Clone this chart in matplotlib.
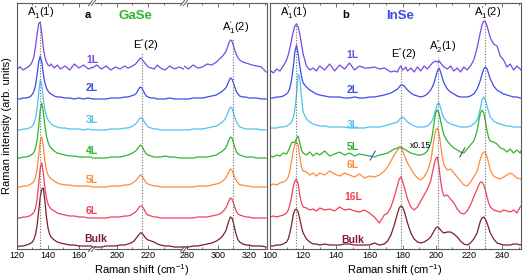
import matplotlib
matplotlib.use('Agg')
import matplotlib.pyplot as plt
from matplotlib.lines import Line2D
from matplotlib.ticker import FixedLocator
import numpy as np

plt.rcParams['font.family'] = ['Liberation Sans', 'DejaVu Sans']
plt.rcParams['mathtext.fontset'] = 'custom'
plt.rcParams['mathtext.rm'] = 'Liberation Sans'
plt.rcParams['mathtext.it'] = 'Liberation Sans:italic'
plt.rcParams['mathtext.bf'] = 'Liberation Sans:bold'
plt.rcParams['mathtext.default'] = 'regular'

# ---------------- data: GaSe (panel a), broken x axis in 3 pieces ----------------
gase_x1 = [120, 122, 124, 126, 128, 129, 130, 131, 132, 133, 134, 135, 136, 137, 138,
           139, 140, 141, 142, 144, 146, 148, 151, 154, 157, 160, 163, 166, 169]
gase_x2 = [184, 187, 190, 193, 196, 199, 202, 205, 207, 209, 211, 212, 213, 214, 215,
           216, 217, 218, 219, 220, 222, 224, 226, 228, 231, 234, 237, 240, 243]
gase_x3 = [278, 281, 284, 287, 290, 293, 296, 299, 301, 303, 305, 306, 307, 308, 309,
           310, 311, 312, 313, 314, 316, 318, 320, 322, 325, 328, 331]

gase_layers = ['1L', '2L', '3L', '4L', '5L', '6L', 'Bulk']
gase_offsets = [179, 150, 119, 91, 62, 31, 2]

gase_1L = [[1, 3, 0, 2, 4, 6, 9, 14, 24, 36, 46, 48, 36, 22, 13, 8, 5, 4, 6, 2, 5, 1, 4, 0, 6, 2, 5, 1, 3],
           [2, 5, 1, 4, 0, 3, 1, 4, 2, 3, 5, 6, 8, 10, 12, 11, 9, 7, 5, 3, 2, 1, 5, 2, 0, 4, 1, 3, 1],
           [4, 1, 5, 2, 3, 6, 5, 8, 11, 14, 18, 22, 27, 30, 29, 24, 19, 15, 12, 10, 8, 7, 6, 5, 4, 3, -2]]
gase_2L = [[0, 0, 1, 1, 2, 3, 5, 8, 14, 25, 37, 43, 37, 25, 16, 11, 8, 6, 5, 3, 2, 2, 1, 1, 0, 1, 0, 1, 0],
           [0, 0, 0, 0, 1, 1, 1, 2, 2, 3, 4, 5, 7, 10, 12, 11, 8, 5, 3, 2, 1, 1, 0, 0, 0, 1, 0, 0, 0],
           [0, 0, 1, 1, 1, 2, 3, 4, 6, 8, 11, 14, 18, 21, 20, 16, 11, 7, 5, 3, 2, 2, 1, 1, 1, 0, 0]]
gase_3L = [[0, 0, 1, 1, 2, 3, 4, 7, 12, 22, 37, 50, 45, 31, 20, 14, 10, 8, 6, 4, 3, 2, 2, 1, 1, 1, 0, 1, 0],
           [0, 0, 0, 0, 1, 1, 1, 2, 2, 3, 5, 6, 8, 10, 12, 12, 10, 7, 5, 3, 2, 1, 1, 0, 0, 0, 0, 0, 0],
           [0, 0, 1, 1, 1, 2, 3, 4, 6, 8, 12, 16, 20, 23, 22, 17, 12, 8, 5, 3, 2, 1, 1, 1, 1, 0, 0]]
gase_4L = [[0, 0, 1, 1, 2, 3, 4, 6, 10, 18, 32, 48, 55, 46, 32, 22, 16, 12, 10, 7, 5, 4, 3, 2, 2, 1, 1, 1, 1],
           [0, 0, 0, 0, 1, 1, 1, 2, 3, 4, 6, 7, 9, 11, 13, 12, 9, 6, 4, 3, 2, 1, 1, 1, 2, 1, 1, 0, 0],
           [0, 0, 0, 1, 1, 1, 2, 3, 5, 7, 10, 14, 18, 21, 20, 15, 10, 6, 4, 3, 2, 1, 1, 1, 0, 0, 0]]
gase_5L = [[0, 0, 1, 1, 2, 3, 4, 6, 10, 18, 32, 46, 50, 40, 26, 17, 12, 10, 8, 6, 4, 3, 2, 2, 1, 1, 1, 1, 0],
           [0, 0, 0, 0, 1, 1, 1, 2, 2, 3, 5, 6, 8, 10, 12, 11, 9, 6, 4, 3, 2, 1, 1, 0, 0, 0, 0, 0, 0],
           [0, 0, 0, 1, 1, 1, 2, 3, 4, 6, 9, 12, 15, 18, 17, 13, 9, 6, 4, 2, 2, 1, 1, 0, 0, 0, 0]]
gase_6L = [[0, 0, 1, 1, 2, 3, 4, 6, 10, 19, 34, 50, 55, 45, 30, 20, 14, 11, 9, 7, 5, 4, 3, 2, 2, 1, 1, 0, 0],
           [0, 0, 0, 0, 1, 1, 1, 2, 2, 3, 5, 6, 8, 10, 12, 12, 10, 7, 4, 3, 2, 1, 1, 0, 0, 0, 0, 0, 0],
           [0, 0, 0, 1, 1, 1, 2, 3, 4, 6, 10, 13, 17, 20, 19, 15, 10, 6, 4, 3, 2, 1, 1, 0, 0, 0, 0]]
gase_bulk = [[0, 1, 1, 2, 3, 4, 5, 8, 13, 22, 36, 50, 58, 59, 46, 30, 19, 13, 10, 7, 5, 4, 3, 2, 2, 1, 1, 1, 1],
             [0, 0, 0, 1, 1, 1, 2, 2, 3, 4, 6, 8, 10, 12, 14, 14, 12, 10, 8, 7, 6, 5, 3, 2, 1, 1, 0, 0, 0],
             [0, 0, 1, 1, 2, 3, 4, 6, 8, 11, 16, 21, 26, 30, 29, 24, 17, 11, 7, 5, 3, 2, 2, 1, 1, 1, 0]]
gase_curves = [gase_1L, gase_2L, gase_3L, gase_4L, gase_5L, gase_6L, gase_bulk]

# ---------------- data: InSe (panel b) ----------------
inse_x = [100, 102, 104, 106, 108, 110, 111, 112, 113, 114, 115, 116, 117, 118, 119, 120,
          122, 124, 126, 128, 130, 133, 136, 139, 142, 145, 148, 151, 154, 157, 160, 163, 166, 169,
          171, 173, 175, 177, 178, 179, 180, 181, 182, 183, 185, 187, 189, 191, 193, 195, 197,
          198, 199, 200, 201, 202, 203, 204, 205, 207, 209, 211, 213, 215, 217, 219, 221, 223, 225,
          226, 227, 228, 229, 230, 231, 232, 233, 235, 237, 239, 241, 243, 245, 247, 249, 251, 252]

inse_layers = ['1L', '2L', '3L', '5L', '6L', '16L', 'Bulk']
inse_offsets = [177, 151, 121, 92, 64, 32, 2]

inse_1L = ([2, -1, 3, 1, 6, 12, 17, 24, 32, 40, 46, 48, 45, 38, 28, 18]
           + [6, 2, 4, 1, 6, 2, 8, 1, 7, 3, 9, 2, 6, 4, 4, 5, 3, 4]
           + [2, 0, 1, 0, 4, 6, 2, 3, 5, 1, 4, 0, 5, 1, 6, 3, 7]
           + [9, 10, 11, 10, 11, 9, 7, 5, 3, 6, 1, 4, 0, 5, 2, 6, 12, 24]
           + [32, 40, 47, 51, 50, 46, 40, 34, 28, 26, 16, 12, 5, 8, 2, 6, 3, 1])
inse_2L = ([0, 0, 1, 1, 2, 4, 6, 10, 18, 30, 46, 53, 44, 32, 22, 15]
           + [11, 8, 6, 4, 3, 2, 1, 1, 1, 0, 0, 1, 0, 0, 1, 1, 2, 3]
           + [4, 5, 7, 9, 11, 13, 13, 12, 10, 8, 5, 3, 2, 1, 2, 4, 8]
           + [11, 15, 21, 27, 30, 26, 20, 15, 9, 6, 4, 2, 1, 1, 1, 2, 4, 9]
           + [13, 18, 24, 29, 31, 29, 24, 19, 12, 8, 6, 4, 3, 2, 1, 1, 0, 0])
inse_3L = ([0, 0, 0, 1, 1, 2, 3, 4, 6, 10, 18, 34, 54, 50, 30, 16]
           + [9, 6, 4, 3, 2, 2, 1, 1, 1, 1, 0, 0, 0, 0, 1, 1, 1, 2]
           + [3, 4, 5, 6, 8, 10, 11, 10, 8, 6, 4, 2, 1, 1, 1, 2, 5]
           + [8, 12, 18, 24, 25, 20, 14, 10, 6, 4, 3, 2, 1, 1, 1, 2, 4, 8]
           + [13, 20, 28, 31, 28, 22, 16, 11, 7, 5, 4, 3, 2, 2, 1, 1, 1, 0])
inse_5L = ([1, 0, 2, 1, 4, 3, 6, 10, 14, 15, 14, 19, 21, 14, 7, 4]
           + [2, 5, 1, 4, 2, 6, 1, 3, 5, 2, 4, 1, 3, 2, 1, 0, 2, 3]
           + [4, 6, 8, 9, 10, 10, 9, 8, 7, 6, 4, 3, 2, 2, 3, 6, 14]
           + [22, 34, 44, 47, 44, 36, 28, 22, 16, 12, 9, 7, 5, 4, 8, 12, 16, 26]
           + [36, 44, 47, 44, 36, 26, 19, 16, 15, 13, 9, 8, 5, 8, 4, 7, 4, 8])
inse_6L = ([0, 1, 0, 2, 3, 5, 8, 14, 24, 34, 40, 43, 40, 28, 18, 14]
           + [13, 10, 12, 9, 12, 10, 14, 11, 9, 12, 10, 8, 11, 7, 9, 8, 10, 14]
           + [18, 24, 30, 35, 37, 37, 34, 30, 26, 22, 16, 11, 7, 5, 8, 14, 24]
           + [34, 46, 55, 57, 52, 40, 28, 20, 15, 16, 12, 8, 4, 0, -1, 3, 8, 14]
           + [20, 26, 31, 33, 33, 28, 22, 15, 9, 7, 6, 8, 10, 12, 10, 7, 6, 5])
inse_16L = ([0, 1, 0, 1, 2, 4, 7, 12, 20, 30, 36, 38, 33, 22, 14, 10]
            + [9, 7, 8, 6, 9, 7, 8, 6, 10, 7, 8, 6, 5, 7, 4, 0, -6, 2]
            + [4, 10, 20, 32, 38, 40, 36, 30, 24, 18, 10, 7, 10, 16, 22, 28, 36]
            + [44, 52, 58, 60, 50, 36, 26, 21, 22, 18, 14, 8, 4, 3, 6, 12, 20, 28]
            + [32, 35, 35, 32, 27, 20, 14, 10, 7, 6, 5, 7, 6, 5, 7, 4, 10, 12])
inse_bulk = ([1, 1, 2, 2, 3, 5, 8, 14, 22, 32, 37, 38, 35, 28, 20, 14]
             + [8, 5, 3, 3, 2, 3, 2, 2, 2, 3, 3, 2, 2, 2, 2, 4, 2, 3]
             + [6, 12, 22, 34, 39, 41, 40, 36, 30, 24, 14, 8, 5, 4, 5, 7, 10]
             + [13, 16, 19, 20, 19, 17, 15, 14, 15, 15, 13, 10, 6, 3, 2, 4, 8, 14]
             + [20, 26, 29, 30, 28, 24, 19, 14, 8, 4, 3, 2, 2, 2, 3, 3, 2, 3])
inse_curves = [inse_1L, inse_2L, inse_3L, inse_5L, inse_6L, inse_16L, inse_bulk]
for c in inse_curves:
    assert len(c) == len(inse_x)

# peak markers (positions in cm^-1)
gase_peaks = [135, 216, 310]
inse_peaks = [115.5, 179, 201.5, 230]

colors_a = {'1L': '#7A48E6', '2L': '#3D4BEA', '3L': '#4EC3F2', '4L': '#2EB52E',
            '5L': '#FF8A3A', '6L': '#F2405C', 'Bulk': '#7A1E2E'}
colors_b = {'1L': '#7A48E6', '2L': '#3D4BEA', '3L': '#4EC3F2', '5L': '#2EB52E',
            '6L': '#FF8A3A', '16L': '#F2405C', 'Bulk': '#7A1E2E'}

# ---------------- figure ----------------
W, H = 524, 277
fig = plt.figure(figsize=(W / 100, H / 100), dpi=100)
AX_BOT, AX_TOP = 249, 3
YMAX = AX_BOT - AX_TOP
spine_c = '#5a5a5a'


def add_ax(x0, x1):
    ax = fig.add_axes([x0 / W, 1 - AX_BOT / H, (x1 - x0) / W, YMAX / H])
    ax.patch.set_visible(False)
    return ax


def style(ax, major, minor):
    ax.set_ylim(0, YMAX)
    ax.set_yticks([])
    ax.xaxis.set_major_locator(FixedLocator(major))
    ax.xaxis.set_minor_locator(FixedLocator(minor))
    ax.tick_params(axis='x', which='both', direction='in', top=True, bottom=True,
                   color=spine_c, width=0.6, labelsize=6.5, pad=1.5)
    ax.tick_params(axis='x', which='major', length=3)
    ax.tick_params(axis='x', which='minor', length=1.6)
    for s in ax.spines.values():
        s.set_color(spine_c)
        s.set_linewidth(0.8)


seg_px = [(17, 92), (92, 184), (184, 267)]
seg_lims = [(120, 168.4), (183.9, 243.2), (278.1, 331.6)]
seg_major = [[120, 140, 160], [200, 220], [280, 300, 320]]
seg_minor = [[130, 150], [190, 210, 230], [290, 310, 330]]
gase_x = [gase_x1, gase_x2, gase_x3]

seg_axes = []
for si in range(3):
    ax = add_ax(*seg_px[si])
    ax.set_xlim(*seg_lims[si])
    style(ax, seg_major[si], seg_minor[si])
    if si > 0:
        ax.spines['left'].set_visible(False)
    if si < 2:
        ax.spines['right'].set_visible(False)
    for k in range(len(gase_layers)):
        y = np.array(gase_curves[k][si]) + gase_offsets[k]
        ax.plot(gase_x[si], y, color=colors_a[gase_layers[k]], lw=0.9)
    seg_axes.append(ax)

# dotted peak lines, panel a
gase_line_top = [227, 197, 211]
for si in range(3):
    seg_axes[si].vlines(gase_peaks[si], 0, gase_line_top[si], colors='#707070',
                        linestyles=(0, (1, 1.5)), lw=0.8)

# broken-axis marks
for xb in (92, 184):
    for yb in (AX_BOT, AX_TOP):
        fig.add_artist(Line2D([(xb - 1.5) / W, (xb + 1.5) / W], [1 - yb / H, 1 - yb / H],
                              color='white', lw=1.4))
        for dx in (-1.5, 1.5):
            fig.add_artist(Line2D([(xb + dx - 2) / W, (xb + dx + 2) / W],
                                  [1 - (yb + 2.5) / H, 1 - (yb - 2.5) / H],
                                  color=spine_c, lw=0.7))

ax_a1, ax_a2, ax_a3 = seg_axes
ax_a1.text(135, 236, r'A$_1^{\prime}$(1)', ha='center', va='center', fontsize=8)
ax_a2.text(218.5, 204, r'E$^{\prime\prime}$(2)', ha='center', va='center', fontsize=8)
ax_a3.text(311, 221, r'A$_1^{\prime}$(2)', ha='center', va='center', fontsize=8)
ax_a1.text(165.5, 234, 'a', ha='center', va='center', fontsize=8, fontweight='bold')
ax_a2.text(212, 233, 'GaSe', ha='center', va='center', fontsize=9.5, fontweight='bold',
           color='#2EB52E')
gase_label_y = [189, 161, 129, 98, 69, 38, 10]
gase_label_x = [168.5, 168.5, 168.5, 168.5, 168.5, 168.5, 170.5]
for k, name in enumerate(gase_layers):
    ax_a1.text(gase_label_x[k], gase_label_y[k], name, ha='center', va='center',
               fontsize=7.5, fontweight='bold', color=colors_a[name], zorder=5)

# panel b
ax_b = add_ax(270, 521)
ax_b.set_xlim(100, 251.5)
style(ax_b, list(range(100, 260, 20)), list(range(110, 260, 20)))
for k, name in enumerate(inse_layers):
    y = np.array(inse_curves[k]) + inse_offsets[k]
    ax_b.plot(inse_x, y, color=colors_b[name], lw=0.9)

inse_line_top = [227, 184, 192, 229]
ax_b.vlines(inse_peaks, 0, inse_line_top, colors='#707070', linestyles=(0, (1, 1.5)), lw=0.8)

ax_b.text(114, 236, r'A$_1^{\prime}$(1)', ha='center', va='center', fontsize=8)
ax_b.text(180.5, 195, r'E$^{\prime\prime}$(2)', ha='center', va='center', fontsize=8)
ax_b.text(204, 202, r'A$_2^{\prime\prime}$(1)', ha='center', va='center', fontsize=8)
ax_b.text(231.5, 236, r'A$_1^{\prime}$(2)', ha='center', va='center', fontsize=8)
ax_b.text(145.5, 234, 'b', ha='center', va='center', fontsize=8, fontweight='bold')
ax_b.text(178.5, 233, 'InSe', ha='center', va='center', fontsize=9.5, fontweight='bold',
          color='#3D4BEA')
ax_b.text(191, 103, 'x0.15', ha='center', va='center', fontsize=6.2)
inse_label_y = [194, 159, 124, 102, 84, 52, 9]
for k, name in enumerate(inse_layers):
    ax_b.text(150, inse_label_y[k], name, ha='center', va='center',
              fontsize=7.5, fontweight='bold', color=colors_b[name])

# scale-change marks on the 5L trace
ax_b.plot([160.5, 163.5], [89, 98], color='#3D4BEA', lw=0.8)
ax_b.plot([214.5, 217.5], [92, 101], color='#505050', lw=0.8)

# axis titles
fig.text(142 / W, 1 - 270 / H, r'Raman shift (cm$^{-1}$)', ha='center', va='center', fontsize=8)
fig.text(395 / W, 1 - 270 / H, r'Raman shift (cm$^{-1}$)', ha='center', va='center', fontsize=8)
fig.text(7 / W, 1 - 126 / H, 'Raman intensity (arb. units)', ha='center', va='center',
         rotation=90, fontsize=8)

fig.savefig('out.png', dpi=100)
